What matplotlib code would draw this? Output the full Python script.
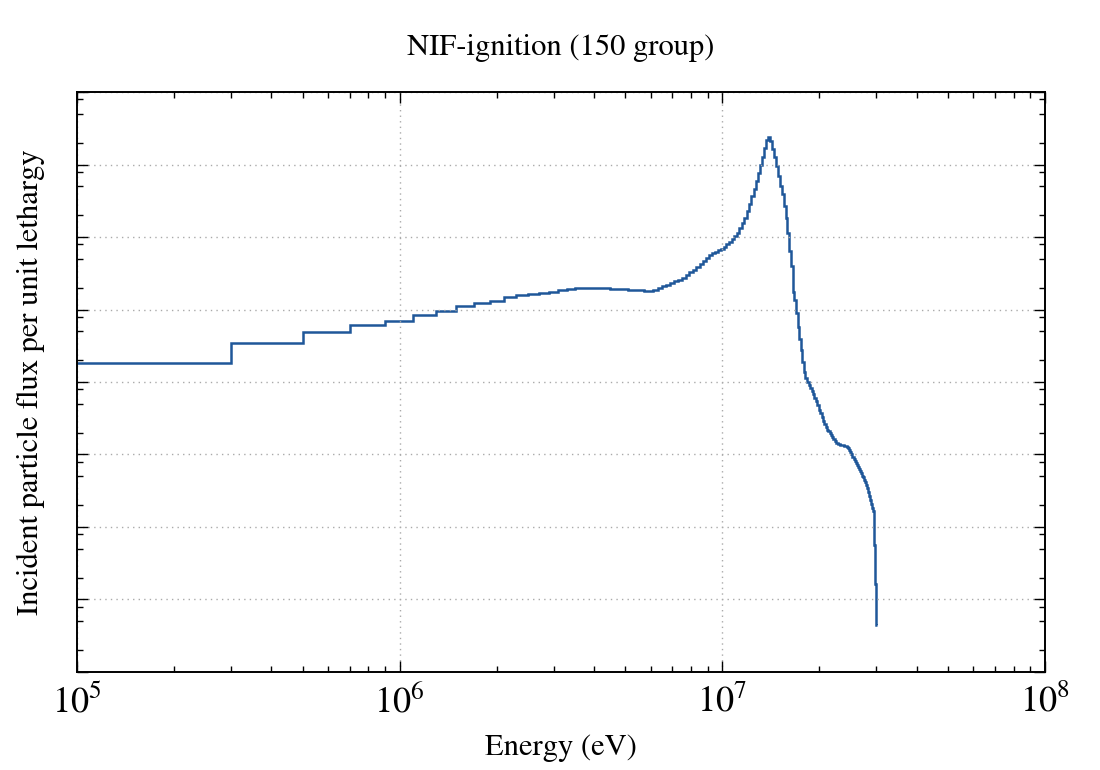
import matplotlib
matplotlib.use('Agg')
import matplotlib.pyplot as plt
import numpy as np
from matplotlib.ticker import LogLocator, NullFormatter

plt.rcParams['font.family'] = ['STIXGeneral', 'Liberation Serif', 'DejaVu Serif']
plt.rcParams['mathtext.fontset'] = 'stix'

# 150 group boundaries (MeV), 200 keV wide groups
edges_mev = [
    0.1, 0.3, 0.5, 0.7, 0.9, 1.1, 1.3, 1.5, 1.7, 1.9, 2.1, 2.3, 2.5, 2.7, 2.9, 3.1,
    3.3, 3.5, 3.7, 3.9, 4.1, 4.3, 4.5, 4.7, 4.9, 5.1, 5.3, 5.5, 5.7, 5.9, 6.1, 6.3,
    6.5, 6.7, 6.9, 7.1, 7.3, 7.5, 7.7, 7.9, 8.1, 8.3, 8.5, 8.7, 8.9, 9.1, 9.3, 9.5,
    9.7, 9.9, 10.1, 10.3, 10.5, 10.7, 10.9, 11.1, 11.3, 11.5, 11.7, 11.9, 12.1, 12.3,
    12.5, 12.7, 12.9, 13.1, 13.3, 13.5, 13.7, 13.9, 14.1, 14.3, 14.5, 14.7, 14.9, 15.1,
    15.3, 15.5, 15.7, 15.9, 16.1, 16.3, 16.5, 16.7, 16.9, 17.1, 17.3, 17.5, 17.7, 17.9,
    18.1, 18.3, 18.5, 18.7, 18.9, 19.1, 19.3, 19.5, 19.7, 19.9, 20.1, 20.3, 20.5, 20.7,
    20.9, 21.1, 21.3, 21.5, 21.7, 21.9, 22.1, 22.3, 22.5, 22.7, 22.9, 23.1, 23.3, 23.5,
    23.7, 23.9, 24.1, 24.3, 24.5, 24.7, 24.9, 25.1, 25.3, 25.5, 25.7, 25.9, 26.1, 26.3,
    26.5, 26.7, 26.9, 27.1, 27.3, 27.5, 27.7, 27.9, 28.1, 28.3, 28.5, 28.7, 28.9, 29.1,
    29.3, 29.5, 29.7, 29.9, 30.1,
]

# flux per unit lethargy in each group (arbitrary units)
flux = [
    1.81e-3, 3.48e-3, 4.94e-3, 6.11e-3, 6.98e-3, 8.40e-3, 9.63e-3, 1.125e-2, 1.22e-2, 1.32e-2,
    1.48e-2, 1.58e-2, 1.65e-2, 1.70e-2, 1.77e-2, 1.85e-2, 1.91e-2, 1.96e-2, 1.99e-2, 2.00e-2,
    1.986e-2, 1.97e-2, 1.94e-2, 1.92e-2, 1.89e-2, 1.86e-2, 1.85e-2, 1.83e-2, 1.81e-2, 1.80e-2,
    1.86e-2, 1.96e-2, 2.08e-2, 2.18e-2, 2.32e-2, 2.45e-2, 2.59e-2, 2.76e-2, 2.99e-2, 3.26e-2,
    3.56e-2, 3.88e-2, 4.27e-2, 4.74e-2, 5.18e-2, 5.61e-2, 5.96e-2, 6.25e-2, 6.53e-2, 6.87e-2,
    7.37e-2, 7.93e-2, 8.64e-2, 9.39e-2, 1.03e-1, 1.15e-1, 1.33e-1, 1.54e-1, 1.83e-1, 2.25e-1,
    2.85e-1, 3.68e-1, 4.59e-1, 5.83e-1, 7.52e-1, 9.84e-1, 1.28, 1.67, 2.18, 2.36,
    2.14, 1.64, 1.25, 9.39e-1, 7.05e-1, 5.13e-1, 3.86e-1, 2.72e-1, 1.80e-1, 1.12e-1,
    6.41e-2, 3.98e-2, 1.74e-2, 1.35e-2, 8.86e-3, 5.79e-3, 3.92e-3, 2.72e-3, 1.86e-3, 1.39e-3,
    1.12e-3, 1.00e-3, 9.09e-4, 8.27e-4, 7.52e-4, 6.83e-4, 6.02e-4, 5.47e-4, 4.82e-4, 4.11e-4,
    3.74e-4, 3.29e-4, 2.90e-4, 2.63e-4, 2.40e-4, 2.21e-4, 2.08e-4, 1.95e-4, 1.83e-4, 1.72e-4,
    1.61e-4, 1.54e-4, 1.46e-4, 1.42e-4, 1.39e-4, 1.37e-4, 1.36e-4, 1.35e-4, 1.34e-4, 1.32e-4,
    1.29e-4, 1.26e-4, 1.21e-4, 1.15e-4, 1.08e-4, 1.00e-4, 9.24e-5, 8.67e-5, 8.14e-5, 7.64e-5,
    7.05e-5, 6.62e-5, 6.21e-5, 5.83e-5, 5.47e-5, 5.13e-5, 4.82e-5, 4.45e-5, 4.11e-5, 3.74e-5,
    3.40e-5, 3.04e-5, 2.68e-5, 2.36e-5, 2.08e-5, 1.83e-5, 1.66e-5, 5.65e-6, 1.64e-6, 4.45e-7,
]

energy_ev = np.array(edges_mev) * 1e6

fig = plt.figure(figsize=(11, 7.7), dpi=100)
ax = fig.add_axes([0.07, 0.1273, 0.88, 0.7532])

ax.stairs(flux, energy_ev, baseline=None, color='#1f5799', lw=1.8)

ax.set_xscale('log')
ax.set_yscale('log')
ax.set_xlim(1e5, 1e8)
ax.set_ylim(1e-7, 1e1)

ax.yaxis.set_major_locator(LogLocator(base=10, numticks=20))
ax.yaxis.set_minor_locator(LogLocator(base=10, subs=(2.0, 5.0, 8.0), numticks=20))
ax.yaxis.set_major_formatter(NullFormatter())
ax.yaxis.set_minor_formatter(NullFormatter())
ax.xaxis.set_minor_locator(LogLocator(base=10, subs=np.arange(2, 10), numticks=20))
ax.xaxis.set_minor_formatter(NullFormatter())

ax.tick_params(which='both', direction='in', top=True, right=True, labelsize=26, pad=9)
ax.tick_params(which='major', length=8, width=1)
ax.tick_params(which='minor', length=4, width=1)
for s in ax.spines.values():
    s.set_linewidth(1.4)

ax.grid(True, which='major', ls=(0, (1, 3)), color='#aaaaaa', lw=1.0)

ax.set_xlabel('Energy (eV)', fontsize=22, labelpad=10)
ax.set_ylabel('Incident particle flux per unit lethargy', fontsize=22, labelpad=14)
ax.set_title('NIF-ignition (150 group)', fontsize=22, pad=27)

plt.savefig('out.png', dpi=100)
